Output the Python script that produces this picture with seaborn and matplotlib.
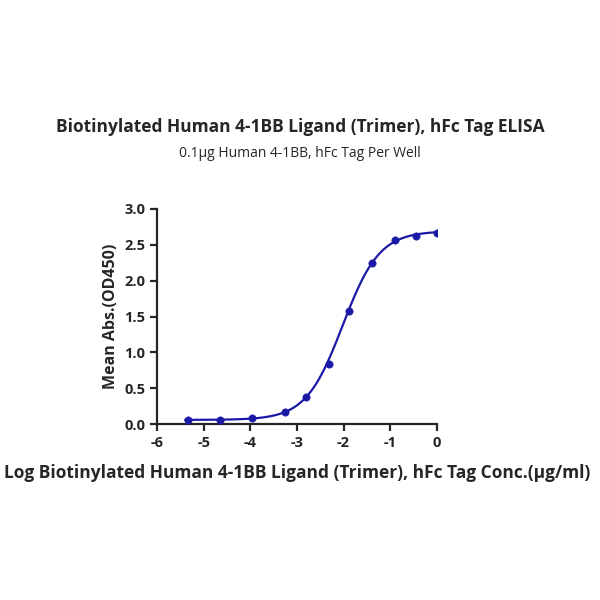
import numpy as np
import matplotlib
matplotlib.use("Agg")
import matplotlib.pyplot as plt
import seaborn as sns

# Datos
log_conc = [-5.34, -4.65, -3.97, -3.26, -2.81, -2.32, -1.89, -1.40, -0.90, -0.45, 0.0]
od450 = [0.06, 0.06, 0.08, 0.17, 0.38, 0.84, 1.58, 2.25, 2.57, 2.62, 2.66]

# Parámetros de la curva ajustada (4PL) estimados del gráfico
bottom, top, logec50, hill = 0.06, 2.69, -2.02, 1.1

sns.set_style("ticks")
plt.rcParams['font.family'] = ['Open Sans', 'DejaVu Sans']
plt.rcParams['axes.unicode_minus'] = False

fig = plt.figure(figsize=(6, 6), dpi=100)
ax = fig.add_axes([0.262, 0.293, 0.466, 0.359])

blue = '#1a1aa6'
xs = np.linspace(-5.4, 0, 200)
ys = bottom + (top - bottom) / (1 + 10 ** ((logec50 - xs) * hill))
sns.lineplot(x=xs, y=ys, ax=ax, color=blue, linewidth=1.6)
sns.scatterplot(x=log_conc, y=od450, ax=ax, color=blue, s=28, edgecolor=blue, zorder=3)

ax.set_xlim(-6, 0)
ax.set_ylim(0, 3)
ax.set_xticks(range(-6, 1))
ax.set_xticklabels([str(v) for v in range(-6, 1)])
ax.set_yticks([0, 0.5, 1, 1.5, 2, 2.5, 3])
ax.set_yticklabels(['0.0', '0.5', '1.0', '1.5', '2.0', '2.5', '3.0'])
for s in ['top', 'right']:
    ax.spines[s].set_visible(False)
for s in ['left', 'bottom']:
    ax.spines[s].set_linewidth(1.6)
ax.tick_params(width=1.6, length=5, labelsize=10.5)
for lab in ax.get_xticklabels() + ax.get_yticklabels():
    lab.set_fontweight('bold')

ax.set_ylabel('Mean Abs.(OD450)', fontsize=11.5, fontweight='bold')
ax.set_xlabel('Log Biotinylated Human 4-1BB Ligand (Trimer), hFc Tag Conc.(μg/ml)',
              fontsize=12.5, fontweight='bold', labelpad=10)

fig.text(0.5, 0.78, 'Biotinylated Human 4-1BB Ligand (Trimer), hFc Tag ELISA',
         ha='center', fontsize=12.5, fontweight='bold')
fig.text(0.5, 0.738, '0.1μg Human 4-1BB, hFc Tag Per Well', ha='center', fontsize=10)

fig.savefig('out.png', dpi=100)
